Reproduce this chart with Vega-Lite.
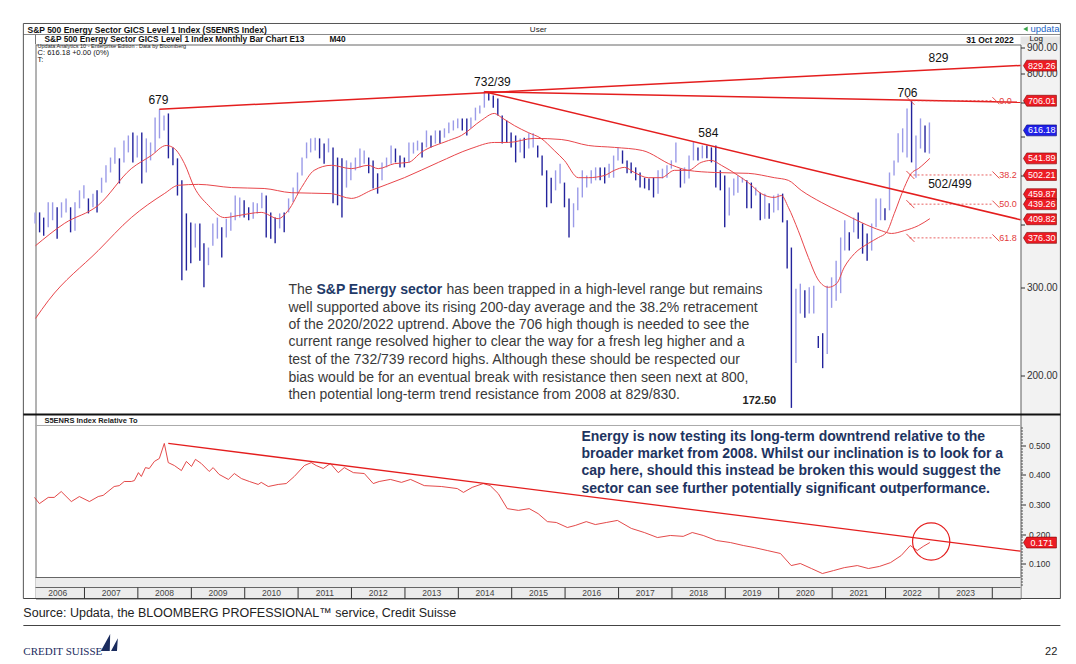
{
"$schema":"https://vega.github.io/schema/vega-lite/v6.json",
"width":985,"height":554,
"autosize":{"type":"pad"},
"padding":{"left":21.5,"top":22.5,"right":5,"bottom":5},
"background":"#ffffff",
"config":{"view":{"stroke":"#666","strokeWidth":1},"font":"Liberation Sans","text":{"font":"Liberation Sans"}},
"datasets":{
"bars":[
{"d":"2006-01-28","v":423,"l":402,"u":1},{"d":"2006-02-28","v":423,"l":386,"u":0},{"d":"2006-03-28","v":413,"l":380,"u":0},{"d":"2006-04-28","v":443,"l":395,"u":1},{"d":"2006-05-28","v":443,"l":408,"u":1},{"d":"2006-06-28","v":433,"l":375,"u":0},{"d":"2006-07-28","v":443,"l":413,"u":1},{"d":"2006-08-28","v":451,"l":423,"u":1},{"d":"2006-09-28","v":433,"l":386,"u":0},{"d":"2006-10-28","v":443,"l":389,"u":1},{"d":"2006-11-28","v":468,"l":431,"u":1},{"d":"2006-12-28","v":479,"l":451,"u":1},
{"d":"2007-01-28","v":451,"l":421,"u":0},{"d":"2007-02-28","v":461,"l":433,"u":1},{"d":"2007-03-28","v":468,"l":423,"u":0},{"d":"2007-04-28","v":496,"l":463,"u":1},{"d":"2007-05-28","v":525,"l":485,"u":1},{"d":"2007-06-28","v":544,"l":508,"u":1},{"d":"2007-07-28","v":570,"l":529,"u":1},{"d":"2007-08-28","v":542,"l":483,"u":0},{"d":"2007-09-28","v":588,"l":532,"u":1},{"d":"2007-10-28","v":602,"l":557,"u":1},{"d":"2007-11-28","v":610,"l":532,"u":0},{"d":"2007-12-28","v":602,"l":544,"u":1},
{"d":"2008-01-28","v":610,"l":483,"u":0},{"d":"2008-02-28","v":594,"l":508,"u":1},{"d":"2008-03-28","v":583,"l":537,"u":1},{"d":"2008-04-28","v":654,"l":557,"u":1},{"d":"2008-05-28","v":679,"l":594,"u":1},{"d":"2008-06-28","v":660,"l":616,"u":1},{"d":"2008-07-28","v":666,"l":542,"u":0},{"d":"2008-08-28","v":570,"l":525,"u":0},{"d":"2008-09-28","v":542,"l":457,"u":0},{"d":"2008-10-28","v":490,"l":310,"u":0},{"d":"2008-11-28","v":421,"l":324,"u":0},{"d":"2008-12-28","v":404,"l":335,"u":0},
{"d":"2009-01-28","v":402,"l":360,"u":1},{"d":"2009-02-28","v":402,"l":339,"u":0},{"d":"2009-03-28","v":367,"l":300,"u":0},{"d":"2009-04-28","v":360,"l":332,"u":1},{"d":"2009-05-28","v":402,"l":363,"u":1},{"d":"2009-06-28","v":413,"l":375,"u":1},{"d":"2009-07-28","v":395,"l":344,"u":0},{"d":"2009-08-28","v":411,"l":377,"u":1},{"d":"2009-09-28","v":423,"l":389,"u":1},{"d":"2009-10-28","v":457,"l":408,"u":1},{"d":"2009-11-28","v":453,"l":413,"u":1},{"d":"2009-12-28","v":447,"l":413,"u":0},
{"d":"2010-01-28","v":433,"l":408,"u":0},{"d":"2010-02-28","v":443,"l":411,"u":1},{"d":"2010-03-28","v":441,"l":421,"u":1},{"d":"2010-04-28","v":463,"l":431,"u":1},{"d":"2010-05-28","v":457,"l":377,"u":0},{"d":"2010-06-28","v":423,"l":375,"u":0},{"d":"2010-07-28","v":413,"l":367,"u":0},{"d":"2010-08-28","v":421,"l":393,"u":1},{"d":"2010-09-28","v":423,"l":386,"u":0},{"d":"2010-10-28","v":451,"l":423,"u":1},{"d":"2010-11-28","v":474,"l":443,"u":1},{"d":"2010-12-28","v":508,"l":461,"u":1},
{"d":"2011-01-28","v":544,"l":501,"u":1},{"d":"2011-02-28","v":583,"l":542,"u":1},{"d":"2011-03-28","v":594,"l":557,"u":1},{"d":"2011-04-28","v":596,"l":562,"u":1},{"d":"2011-05-28","v":594,"l":542,"u":0},{"d":"2011-06-28","v":580,"l":529,"u":0},{"d":"2011-07-28","v":594,"l":557,"u":1},{"d":"2011-08-28","v":570,"l":441,"u":0},{"d":"2011-09-28","v":544,"l":437,"u":0},{"d":"2011-10-28","v":542,"l":413,"u":0},{"d":"2011-11-28","v":537,"l":474,"u":1},{"d":"2011-12-28","v":532,"l":490,"u":1},
{"d":"2012-01-28","v":544,"l":513,"u":1},{"d":"2012-02-28","v":567,"l":520,"u":1},{"d":"2012-03-28","v":562,"l":529,"u":1},{"d":"2012-04-28","v":544,"l":506,"u":0},{"d":"2012-05-28","v":537,"l":472,"u":0},{"d":"2012-06-28","v":506,"l":461,"u":0},{"d":"2012-07-28","v":532,"l":490,"u":1},{"d":"2012-08-28","v":544,"l":520,"u":1},{"d":"2012-09-28","v":575,"l":529,"u":1},{"d":"2012-10-28","v":567,"l":532,"u":0},{"d":"2012-11-28","v":549,"l":520,"u":0},{"d":"2012-12-28","v":544,"l":520,"u":0},
{"d":"2013-01-28","v":583,"l":532,"u":1},{"d":"2013-02-28","v":583,"l":554,"u":1},{"d":"2013-03-28","v":588,"l":562,"u":1},{"d":"2013-04-28","v":583,"l":544,"u":0},{"d":"2013-05-28","v":616,"l":570,"u":1},{"d":"2013-06-28","v":602,"l":570,"u":0},{"d":"2013-07-28","v":616,"l":580,"u":1},{"d":"2013-08-28","v":616,"l":580,"u":0},{"d":"2013-09-28","v":622,"l":596,"u":1},{"d":"2013-10-28","v":639,"l":608,"u":1},{"d":"2013-11-28","v":645,"l":616,"u":1},{"d":"2013-12-28","v":651,"l":622,"u":1},
{"d":"2014-01-28","v":651,"l":616,"u":0},{"d":"2014-02-28","v":651,"l":602,"u":0},{"d":"2014-03-28","v":654,"l":622,"u":1},{"d":"2014-04-28","v":684,"l":645,"u":1},{"d":"2014-05-28","v":691,"l":666,"u":1},{"d":"2014-06-28","v":739,"l":684,"u":1},{"d":"2014-07-28","v":733,"l":707,"u":0},{"d":"2014-08-28","v":723,"l":684,"u":0},{"d":"2014-09-28","v":713,"l":660,"u":0},{"d":"2014-10-28","v":660,"l":580,"u":0},{"d":"2014-11-28","v":645,"l":583,"u":0},{"d":"2014-12-28","v":610,"l":570,"u":0},
{"d":"2015-01-28","v":602,"l":532,"u":0},{"d":"2015-02-28","v":594,"l":557,"u":1},{"d":"2015-03-28","v":596,"l":542,"u":0},{"d":"2015-04-28","v":608,"l":567,"u":1},{"d":"2015-05-28","v":608,"l":570,"u":1},{"d":"2015-06-28","v":575,"l":544,"u":0},{"d":"2015-07-28","v":549,"l":501,"u":0},{"d":"2015-08-28","v":513,"l":433,"u":0},{"d":"2015-09-28","v":496,"l":441,"u":0},{"d":"2015-10-28","v":513,"l":468,"u":1},{"d":"2015-11-28","v":529,"l":483,"u":1},{"d":"2015-12-28","v":485,"l":433,"u":0},
{"d":"2016-01-28","v":451,"l":377,"u":0},{"d":"2016-02-28","v":441,"l":395,"u":1},{"d":"2016-03-28","v":474,"l":427,"u":1},{"d":"2016-04-28","v":513,"l":453,"u":1},{"d":"2016-05-28","v":501,"l":474,"u":1},{"d":"2016-06-28","v":513,"l":483,"u":1},{"d":"2016-07-28","v":520,"l":490,"u":1},{"d":"2016-08-28","v":520,"l":490,"u":0},{"d":"2016-09-28","v":520,"l":483,"u":0},{"d":"2016-10-28","v":529,"l":496,"u":1},{"d":"2016-11-28","v":549,"l":496,"u":1},{"d":"2016-12-28","v":570,"l":537,"u":1},
{"d":"2017-01-28","v":562,"l":529,"u":0},{"d":"2017-02-28","v":537,"l":506,"u":0},{"d":"2017-03-28","v":532,"l":506,"u":0},{"d":"2017-04-28","v":520,"l":490,"u":0},{"d":"2017-05-28","v":508,"l":474,"u":0},{"d":"2017-06-28","v":496,"l":472,"u":0},{"d":"2017-07-28","v":494,"l":468,"u":0},{"d":"2017-08-28","v":496,"l":453,"u":0},{"d":"2017-09-28","v":513,"l":461,"u":1},{"d":"2017-10-28","v":517,"l":494,"u":1},{"d":"2017-11-28","v":525,"l":496,"u":1},{"d":"2017-12-28","v":537,"l":517,"u":1},
{"d":"2018-01-28","v":583,"l":532,"u":1},{"d":"2018-02-28","v":517,"l":474,"u":0},{"d":"2018-03-28","v":520,"l":483,"u":1},{"d":"2018-04-28","v":549,"l":494,"u":1},{"d":"2018-05-28","v":584,"l":537,"u":1},{"d":"2018-06-28","v":570,"l":537,"u":0},{"d":"2018-07-28","v":575,"l":542,"u":1},{"d":"2018-08-28","v":575,"l":542,"u":0},{"d":"2018-09-28","v":570,"l":532,"u":0},{"d":"2018-10-28","v":575,"l":474,"u":0},{"d":"2018-11-28","v":513,"l":468,"u":0},{"d":"2018-12-28","v":501,"l":395,"u":0},
{"d":"2019-01-28","v":474,"l":417,"u":1},{"d":"2019-02-28","v":494,"l":457,"u":1},{"d":"2019-03-28","v":501,"l":463,"u":1},{"d":"2019-04-28","v":496,"l":485,"u":1},{"d":"2019-05-28","v":490,"l":431,"u":0},{"d":"2019-06-28","v":485,"l":431,"u":0},{"d":"2019-07-28","v":474,"l":457,"u":1},{"d":"2019-08-28","v":463,"l":408,"u":0},{"d":"2019-09-28","v":461,"l":411,"u":1},{"d":"2019-10-28","v":441,"l":411,"u":0},{"d":"2019-11-28","v":457,"l":423,"u":1},{"d":"2019-12-28","v":461,"l":427,"u":1},
{"d":"2020-01-28","v":461,"l":404,"u":0},{"d":"2020-02-28","v":408,"l":327,"u":0},{"d":"2020-03-28","v":360,"l":172.5,"u":0},{"d":"2020-04-28","v":298,"l":212,"u":1},{"d":"2020-05-28","v":305,"l":266,"u":1},{"d":"2020-06-28","v":296,"l":261,"u":0},{"d":"2020-07-28","v":300,"l":266,"u":1},{"d":"2020-08-28","v":302,"l":266,"u":1},{"d":"2020-09-28","v":240,"l":227,"u":0},{"d":"2020-10-28","v":243,"l":207,"u":0},{"d":"2020-11-28","v":302,"l":221,"u":1},{"d":"2020-12-28","v":314,"l":273,"u":1},
{"d":"2021-01-28","v":339,"l":282,"u":1},{"d":"2021-02-28","v":377,"l":292,"u":1},{"d":"2021-03-28","v":408,"l":355,"u":1},{"d":"2021-04-28","v":386,"l":355,"u":0},{"d":"2021-05-28","v":413,"l":386,"u":1},{"d":"2021-06-28","v":423,"l":375,"u":0},{"d":"2021-07-28","v":402,"l":350,"u":0},{"d":"2021-08-28","v":384,"l":339,"u":0},{"d":"2021-09-28","v":402,"l":355,"u":1},{"d":"2021-10-28","v":451,"l":395,"u":1},{"d":"2021-11-28","v":451,"l":408,"u":1},{"d":"2021-12-28","v":431,"l":408,"u":0},
{"d":"2022-01-28","v":508,"l":427,"u":1},{"d":"2022-02-28","v":537,"l":501,"u":1},{"d":"2022-03-28","v":608,"l":532,"u":1},{"d":"2022-04-28","v":622,"l":557,"u":1},{"d":"2022-05-28","v":681,"l":544,"u":1},{"d":"2022-06-28","v":706,"l":532,"u":0},{"d":"2022-07-28","v":602,"l":496,"u":1},{"d":"2022-08-28","v":651,"l":567,"u":1},{"d":"2022-09-28","v":630,"l":557,"u":0},{"d":"2022-10-28","v":639,"l":554,"u":1}
],
"ma1":[
{"d":"2006-01-31","v":363},{"d":"2006-08-16","v":402},{"d":"2007-04-05","v":437},{"d":"2007-11-17","v":517},{"d":"2008-04-02","v":549},{"d":"2008-07-13","v":575},{"d":"2008-09-07","v":567},{"d":"2008-11-15","v":529},{"d":"2009-01-22","v":474},{"d":"2009-04-27","v":437},{"d":"2009-08-15","v":413},{"d":"2009-11-19","v":417},{"d":"2010-04-24","v":423},{"d":"2010-08-18","v":411},{"d":"2010-10-26","v":427},{"d":"2011-01-24","v":474},{"d":"2011-04-21","v":513},{"d":"2011-08-16","v":525},{"d":"2011-12-31","v":517},{"d":"2012-04-25","v":525},{"d":"2012-07-02","v":517},{"d":"2012-10-21","v":529},{"d":"2013-01-25","v":532},{"d":"2013-04-22","v":557},{"d":"2013-10-25","v":588},{"d":"2014-01-22","v":602},{"d":"2014-06-07","v":645},{"d":"2014-09-04","v":666},{"d":"2014-10-22","v":654},{"d":"2015-01-19","v":630},{"d":"2015-04-24","v":610},{"d":"2015-07-21","v":594},{"d":"2015-10-19","v":562},{"d":"2015-12-27","v":537},{"d":"2016-04-01","v":496},{"d":"2016-06-08","v":496},{"d":"2016-09-26","v":501},{"d":"2016-12-03","v":513},{"d":"2017-02-11","v":520},{"d":"2017-04-19","v":508},{"d":"2017-07-23","v":496},{"d":"2017-10-20","v":496},{"d":"2018-01-18","v":513},{"d":"2018-04-22","v":513},{"d":"2018-07-20","v":532},{"d":"2018-09-27","v":537},{"d":"2018-12-05","v":525},{"d":"2019-03-30","v":501},{"d":"2019-06-07","v":485},{"d":"2019-09-04","v":461},{"d":"2019-12-02","v":453},{"d":"2020-01-20","v":457},{"d":"2020-03-07","v":433},{"d":"2020-05-14","v":389},{"d":"2020-07-22","v":344},{"d":"2020-09-29","v":310},{"d":"2020-12-06","v":300},{"d":"2021-01-31","v":305},{"d":"2021-03-25","v":329},{"d":"2021-06-02","v":350},{"d":"2021-09-06","v":367},{"d":"2021-11-14","v":377},{"d":"2022-01-08","v":386},{"d":"2022-03-02","v":421},{"d":"2022-05-09","v":474},{"d":"2022-06-26","v":506},{"d":"2022-08-13","v":517},{"d":"2022-10-31","v":542}
],
"ma2":[
{"d":"2006-01-31","v":260},{"d":"2006-04-28","v":282},{"d":"2007-04-05","v":355},{"d":"2007-11-17","v":413},{"d":"2008-06-30","v":461},{"d":"2008-10-04","v":479},{"d":"2009-02-19","v":481},{"d":"2009-10-02","v":474},{"d":"2010-05-14","v":472},{"d":"2010-11-15","v":463},{"d":"2011-08-16","v":461},{"d":"2011-12-31","v":451},{"d":"2012-05-15","v":468},{"d":"2012-12-28","v":496},{"d":"2013-08-17","v":532},{"d":"2014-03-29","v":567},{"d":"2014-09-04","v":583},{"d":"2014-12-09","v":583},{"d":"2015-06-04","v":594},{"d":"2015-12-06","v":591},{"d":"2016-06-08","v":575},{"d":"2016-12-03","v":570},{"d":"2017-06-12","v":562},{"d":"2018-01-04","v":525},{"d":"2018-04-22","v":513},{"d":"2018-10-17","v":508},{"d":"2019-06-07","v":506},{"d":"2019-12-02","v":496},{"d":"2020-03-07","v":490},{"d":"2020-06-03","v":468},{"d":"2020-10-18","v":443},{"d":"2021-03-03","v":423},{"d":"2021-07-18","v":404},{"d":"2021-12-03","v":389},{"d":"2022-02-10","v":384},{"d":"2022-05-09","v":389},{"d":"2022-08-13","v":398},{"d":"2022-10-31","v":411}
],
"tl":[
{"k":"A","d":"2008-05-27","v":679},{"k":"A","d":"2024-07-12","v":830},
{"k":"B","d":"2014-06-28","v":736},{"k":"B","d":"2024-07-12","v":701},
{"k":"C","d":"2014-06-28","v":736},{"k":"C","d":"2024-07-12","v":409}
],
"fib":[{"v":706.01,"lab":"0.0"},{"v":502.21,"lab":"38.2"},{"v":439.26,"lab":"50.0"},{"v":376.30,"lab":"61.8"}],
"lbl":[
{"d":"2008-05-21","v":710,"t":"679"},{"d":"2014-08-22","v":769,"t":"732/39"},{"d":"2018-09-07","v":610,"t":"584"},{"d":"2022-05-31","v":733,"t":"706"},{"d":"2022-12-29","v":857,"t":"829"},{"d":"2023-03-17","v":482,"t":"502/499"}
],
"para":[
{"v":273.4,"t":"well supported above its rising 200-day average and the 38.2% retracement"},
{"v":252.4,"t":"of the 2020/2022 uptrend. Above the 706 high though is needed to see the"},
{"v":232.9,"t":"current range resolved higher to clear the way for a fresh leg higher and a"},
{"v":214.9,"t":"test of the 732/739 record highs. Although these should be respected our"},
{"v":198.3,"t":"bias would be for an eventual break with resistance then seen next at 800,"},
{"v":183.0,"t":"then potential long-term trend resistance from 2008 at 829/830."}
],
"tags":[{"v":829.26,"k":"r"},{"v":706.01,"k":"r"},{"v":616.18,"k":"b"},{"v":541.89,"k":"r"},{"v":502.21,"k":"r"},{"v":459.87,"k":"r"},{"v":439.26,"k":"r"},{"v":409.82,"k":"r"},{"v":376.30,"k":"r"}],
"rel":[
{"d":"2006-01-24","r":0.324},{"d":"2006-02-27","r":0.303},{"d":"2006-04-28","r":0.324},{"d":"2006-06-08","r":0.324},{"d":"2006-07-26","r":0.344},{"d":"2006-10-03","r":0.31},{"d":"2006-11-27","r":0.327},{"d":"2007-02-04","r":0.31},{"d":"2007-04-05","r":0.327},{"d":"2007-05-09","r":0.331},{"d":"2007-07-23","r":0.361},{"d":"2007-08-27","r":0.364},{"d":"2007-09-30","r":0.378},{"d":"2007-11-17","r":0.378},{"d":"2007-12-08","r":0.381},{"d":"2008-01-05","r":0.408},{"d":"2008-01-25","r":0.395},{"d":"2008-02-22","r":0.425},{"d":"2008-03-19","r":0.422},{"d":"2008-04-23","r":0.446},{"d":"2008-05-27","r":0.456},{"d":"2008-06-30","r":0.507},{"d":"2008-07-27","r":0.442},{"d":"2008-09-07","r":0.432},{"d":"2008-10-25","r":0.415},{"d":"2008-11-28","r":0.446},{"d":"2009-01-02","r":0.429},{"d":"2009-01-29","r":0.453},{"d":"2009-03-10","r":0.439},{"d":"2009-05-03","r":0.412},{"d":"2009-05-30","r":0.425},{"d":"2009-07-10","r":0.402},{"d":"2009-09-11","r":0.385},{"d":"2009-10-22","r":0.405},{"d":"2009-12-09","r":0.388},{"d":"2010-02-02","r":0.378},{"d":"2010-04-03","r":0.368},{"d":"2010-04-24","r":0.375},{"d":"2010-06-11","r":0.361},{"d":"2010-08-18","r":0.368},{"d":"2010-10-12","r":0.371},{"d":"2010-12-06","r":0.395},{"d":"2011-02-13","r":0.432},{"d":"2011-04-01","r":0.442},{"d":"2011-05-05","r":0.432},{"d":"2011-06-22","r":0.422},{"d":"2011-08-10","r":0.439},{"d":"2011-10-03","r":0.408},{"d":"2011-11-13","r":0.425},{"d":"2012-01-14","r":0.408},{"d":"2012-03-29","r":0.405},{"d":"2012-05-29","r":0.371},{"d":"2012-07-09","r":0.378},{"d":"2012-09-23","r":0.385},{"d":"2012-12-08","r":0.375},{"d":"2013-02-08","r":0.385},{"d":"2013-05-13","r":0.364},{"d":"2013-09-07","r":0.361},{"d":"2013-12-25","r":0.354},{"d":"2014-02-05","r":0.341},{"d":"2014-04-06","r":0.358},{"d":"2014-06-20","r":0.371},{"d":"2014-08-07","r":0.364},{"d":"2014-10-01","r":0.337},{"d":"2014-12-02","r":0.286},{"d":"2015-02-16","r":0.28},{"d":"2015-05-01","r":0.286},{"d":"2015-07-01","r":0.269},{"d":"2015-09-02","r":0.242},{"d":"2015-11-02","r":0.239},{"d":"2016-01-17","r":0.222},{"d":"2016-03-11","r":0.229},{"d":"2016-05-25","r":0.242},{"d":"2016-07-26","r":0.232},{"d":"2016-10-09","r":0.239},{"d":"2016-12-24","r":0.246},{"d":"2017-03-29","r":0.219},{"d":"2017-06-26","r":0.205},{"d":"2017-09-24","r":0.188},{"d":"2017-12-21","r":0.195},{"d":"2018-03-19","r":0.192},{"d":"2018-05-20","r":0.205},{"d":"2018-08-03","r":0.195},{"d":"2018-11-01","r":0.178},{"d":"2019-02-05","r":0.171},{"d":"2019-05-04","r":0.161},{"d":"2019-07-18","r":0.154},{"d":"2019-10-15","r":0.144},{"d":"2020-01-13","r":0.134},{"d":"2020-03-27","r":0.093},{"d":"2020-05-28","r":0.1},{"d":"2020-08-12","r":0.083},{"d":"2020-10-26","r":0.066},{"d":"2021-01-10","r":0.076},{"d":"2021-03-25","r":0.086},{"d":"2021-06-22","r":0.093},{"d":"2021-09-06","r":0.083},{"d":"2021-11-20","r":0.09},{"d":"2022-02-04","r":0.103},{"d":"2022-04-18","r":0.127},{"d":"2022-06-19","r":0.161},{"d":"2022-08-06","r":0.144},{"d":"2022-09-16","r":0.158},{"d":"2022-10-31","r":0.171}
],
"rtl":[{"d":"2008-07-27","r":0.507},{"d":"2024-07-12","r":0.142}],
"lpara":[
{"r":0.5305,"t":"Energy is now testing its long-term downtrend relative to the"},
{"r":0.4712,"t":"broader market from 2008. Whilst our inclination is to look for a"},
{"r":0.4119,"t":"cap here, should this instead be broken this would suggest the"},
{"r":0.3525,"t":"sector can see further potentially significant outperformance."}
],
"years":[{"d":"2006-01-01","t":"2006"},{"d":"2007-01-01","t":"2007"},{"d":"2008-01-01","t":"2008"},{"d":"2009-01-01","t":"2009"},{"d":"2010-01-01","t":"2010"},{"d":"2011-01-01","t":"2011"},{"d":"2012-01-01","t":"2012"},{"d":"2013-01-01","t":"2013"},{"d":"2014-01-01","t":"2014"},{"d":"2015-01-01","t":"2015"},{"d":"2016-01-01","t":"2016"},{"d":"2017-01-01","t":"2017"},{"d":"2018-01-01","t":"2018"},{"d":"2019-01-01","t":"2019"},{"d":"2020-01-01","t":"2020"},{"d":"2021-01-01","t":"2021"},{"d":"2022-01-01","t":"2022"},{"d":"2023-01-01","t":"2023"},{"d":"2024-01-01","t":"2024"}]
},
"layer":[
{"layer":[
  {"data":{"values":[{}]},"mark":{"type":"rect","color":"#000000","opacity":0.05},"encoding":{"x":{"datum":{"year":2024,"month":7,"date":12},"type":"temporal","axis":null},"x2":{"datum":{"year":2025,"month":4,"date":11}},"y":{"datum":947.9,"type":"quantitative","scale":{"type":"log","domain":[71.95,913.8],"nice":false},"axis":null},"y2":{"datum":71.95}}},
  {"data":{"name":"bars"},"mark":{"type":"rule","strokeWidth":1.4},
   "encoding":{"x":{"field":"d","type":"temporal","scale":{"domain":[{"year":2006,"month":1,"date":31},{"year":2024,"month":7,"date":12}]},"axis":null},
   "y":{"field":"v","type":"quantitative","scale":{"type":"log","domain":[71.95,913.8],"nice":false},"axis":null},
   "y2":{"field":"l"},
   "color":{"field":"u","type":"nominal","scale":{"domain":[0,1],"range":["#23239c","#9b9be8"]},"legend":null}}},
  {"data":{"name":"ma1"},"mark":{"type":"line","color":"#e8464b","strokeWidth":1,"interpolate":"monotone"},"encoding":{"x":{"field":"d","type":"temporal","axis":null},"y":{"field":"v","type":"quantitative","scale":{"type":"log","domain":[71.95,913.8],"nice":false},"axis":null}}},
  {"data":{"name":"ma2"},"mark":{"type":"line","color":"#e8464b","strokeWidth":1,"interpolate":"monotone"},"encoding":{"x":{"field":"d","type":"temporal","axis":null},"y":{"field":"v","type":"quantitative","scale":{"type":"log","domain":[71.95,913.8],"nice":false},"axis":null}}},
  {"data":{"name":"tl"},"mark":{"type":"line","color":"#e41e1e","strokeWidth":1.5},"encoding":{"x":{"field":"d","type":"temporal","axis":null},"y":{"field":"v","type":"quantitative","scale":{"type":"log","domain":[71.95,913.8],"nice":false},"axis":null},"detail":{"field":"k"}}},
  {"data":{"name":"fib"},"mark":{"type":"rule","color":"#e23a3a","strokeWidth":0.8,"strokeDash":[2,2]},"encoding":{"x":{"datum":{"year":2022,"month":6,"date":14},"type":"temporal","axis":null},"x2":{"datum":{"year":2024,"month":1,"date":9}},"y":{"field":"v","type":"quantitative","scale":{"type":"log","domain":[71.95,913.8],"nice":false},"axis":null}}},
  {"data":{"name":"fib"},"mark":{"type":"point","shape":"M-1,-1L1,1","size":64,"filled":false,"color":"#e23a3a","strokeWidth":0.9,"opacity":1},"encoding":{"x":{"datum":{"year":2022,"month":6,"date":20},"type":"temporal","axis":null},"y":{"field":"v","type":"quantitative","scale":{"type":"log","domain":[71.95,913.8],"nice":false},"axis":null}}},
  {"data":{"name":"fib"},"mark":{"type":"point","shape":"M-1,-1L1,1","size":49,"filled":false,"color":"#e23a3a","strokeWidth":0.9,"opacity":1},"encoding":{"x":{"datum":{"year":2024,"month":1,"date":26},"type":"temporal","axis":null},"y":{"field":"v","type":"quantitative","scale":{"type":"log","domain":[71.95,913.8],"nice":false},"axis":null}}},
  {"data":{"name":"fib"},"mark":{"type":"text","align":"left","baseline":"middle","fontSize":9,"color":"#e23a3a"},"encoding":{"x":{"datum":{"year":2024,"month":2,"date":18},"type":"temporal","axis":null},"y":{"field":"v","type":"quantitative","scale":{"type":"log","domain":[71.95,913.8],"nice":false},"axis":null},"text":{"field":"lab"}}},
  {"data":{"name":"lbl"},"mark":{"type":"text","fontSize":12,"color":"#111","baseline":"middle"},"encoding":{"x":{"field":"d","type":"temporal","axis":null},"y":{"field":"v","type":"quantitative","scale":{"type":"log","domain":[71.95,913.8],"nice":false},"axis":null},"text":{"field":"t"}}},
  {"data":{"values":[{"d":"2019-08-22","v":177.7,"t":"172.50"}]},"mark":{"type":"text","fontSize":11,"fontWeight":"bold","color":"#222","baseline":"middle"},"encoding":{"x":{"field":"d","type":"temporal","axis":null},"y":{"field":"v","type":"quantitative","scale":{"type":"log","domain":[71.95,913.8],"nice":false},"axis":null},"text":{"field":"t"}}},
  {"data":{"name":"para"},"mark":{"type":"text","align":"left","baseline":"middle","fontSize":14,"color":"#3a3a3a"},"encoding":{"x":{"datum":{"year":2010,"month":10,"date":27},"type":"temporal","axis":null},"y":{"field":"v","type":"quantitative","scale":{"type":"log","domain":[71.95,913.8],"nice":false},"axis":null},"text":{"field":"t"}}},
  {"data":{"values":[{}]},"mark":{"type":"text","align":"left","baseline":"middle","fontSize":14,"color":"#3a3a3a"},"encoding":{"x":{"datum":{"year":2010,"month":10,"date":27},"type":"temporal","axis":null},"y":{"datum":296.3,"type":"quantitative","scale":{"type":"log","domain":[71.95,913.8],"nice":false},"axis":null},"text":{"value":"The"}}},
  {"data":{"values":[{}]},"mark":{"type":"text","align":"left","baseline":"middle","fontSize":14,"fontWeight":"bold","color":"#1f3a68","dx":28},"encoding":{"x":{"datum":{"year":2010,"month":10,"date":27},"type":"temporal","axis":null},"y":{"datum":296.3,"type":"quantitative","scale":{"type":"log","domain":[71.95,913.8],"nice":false},"axis":null},"text":{"value":"S&P Energy sector"}}},
  {"data":{"values":[{}]},"mark":{"type":"text","align":"left","baseline":"middle","fontSize":14,"color":"#3a3a3a","dx":158},"encoding":{"x":{"datum":{"year":2010,"month":10,"date":27},"type":"temporal","axis":null},"y":{"datum":296.3,"type":"quantitative","scale":{"type":"log","domain":[71.95,913.8],"nice":false},"axis":null},"text":{"value":"has been trapped in a high-level range but remains"}}},
  {"data":{"name":"tags"},"transform":[{"filter":"datum.k == 'r'"}],"mark":{"type":"point","shape":"M-1,0L-0.8,-0.33L1,-0.33L1,0.33L-0.8,0.33Z","size":1089,"filled":true,"opacity":1,"fill":"#ec1c24","stroke":"#7a0000","strokeWidth":0.6},"encoding":{"x":{"datum":{"year":2024,"month":11,"date":22},"type":"temporal","axis":null},"y":{"field":"v","type":"quantitative","scale":{"type":"log","domain":[71.95,913.8],"nice":false},"axis":null}}},
  {"data":{"name":"tags"},"transform":[{"filter":"datum.k == 'b'"}],"mark":{"type":"point","shape":"M-1,0L-0.8,-0.33L1,-0.33L1,0.33L-0.8,0.33Z","size":1089,"filled":true,"opacity":1,"fill":"#2020e8","stroke":"#000070","strokeWidth":0.6},"encoding":{"x":{"datum":{"year":2024,"month":11,"date":22},"type":"temporal","axis":null},"y":{"field":"v","type":"quantitative","scale":{"type":"log","domain":[71.95,913.8],"nice":false},"axis":null}}},
  {"data":{"name":"tags"},"mark":{"type":"text","fontSize":9,"color":"#ffffff","baseline":"middle","align":"center"},"encoding":{"x":{"datum":{"year":2024,"month":12,"date":5},"type":"temporal","axis":null},"y":{"field":"v","type":"quantitative","scale":{"type":"log","domain":[71.95,913.8],"nice":false},"axis":null},"text":{"field":"v","format":".2f"}}}
 ]},
{"layer":[
  {"data":{"values":[{}]},"mark":{"type":"rect","color":"#ececec"},"encoding":{"x":{"datum":{"year":2006,"month":1,"date":31},"type":"temporal","axis":null},"x2":{"datum":{"year":2024,"month":7,"date":12}},"y":{"datum":0.05254,"type":"quantitative","scale":{"domain":[-0.01864,1.8593],"zero":false,"nice":false},"axis":null},"y2":{"datum":-0.01864}}},
  {"data":{"values":[{}]},"mark":{"type":"rect","color":"#000000","opacity":0.05},"encoding":{"x":{"datum":{"year":2024,"month":7,"date":12},"type":"temporal","axis":null},"x2":{"datum":{"year":2025,"month":4,"date":11}},"y":{"datum":1.8864,"type":"quantitative","scale":{"domain":[-0.01864,1.8593],"zero":false,"nice":false},"axis":null},"y2":{"datum":1.8593}}},
  {"data":{"name":"rel"},"mark":{"type":"line","color":"#e03434","strokeWidth":0.9},"encoding":{"x":{"field":"d","type":"temporal","axis":null},"y":{"field":"r","type":"quantitative","scale":{"domain":[-0.01864,1.8593],"zero":false,"nice":false},"axis":null}}},
  {"data":{"name":"rtl"},"mark":{"type":"line","color":"#e41e1e","strokeWidth":1.3},"encoding":{"x":{"field":"d","type":"temporal","axis":null},"y":{"field":"r","type":"quantitative","scale":{"domain":[-0.01864,1.8593],"zero":false,"nice":false},"axis":null}}},
  {"data":{"values":[{}]},"mark":{"type":"point","shape":"circle","size":1385,"filled":false,"color":"#e41e1e","strokeWidth":1.2,"opacity":1},"encoding":{"x":{"datum":{"year":2022,"month":11,"date":9},"type":"temporal","axis":null},"y":{"datum":0.1746,"type":"quantitative","scale":{"domain":[-0.01864,1.8593],"zero":false,"nice":false},"axis":null}}},
  {"data":{"values":[{}]},"mark":{"type":"point","shape":"M-1,0L-0.8,-0.33L1,-0.33L1,0.33L-0.8,0.33Z","size":1089,"filled":true,"opacity":1,"fill":"#ec1c24","stroke":"#7a0000","strokeWidth":0.6},"encoding":{"x":{"datum":{"year":2024,"month":11,"date":22},"type":"temporal","axis":null},"y":{"datum":0.171,"type":"quantitative","scale":{"domain":[-0.01864,1.8593],"zero":false,"nice":false},"axis":null}}},
  {"data":{"values":[{}]},"mark":{"type":"text","fontSize":9,"color":"#ffffff","baseline":"middle","align":"center"},"encoding":{"x":{"datum":{"year":2024,"month":12,"date":5},"type":"temporal","axis":null},"y":{"datum":0.171,"type":"quantitative","scale":{"domain":[-0.01864,1.8593],"zero":false,"nice":false},"axis":null},"text":{"value":"0.171"}}},
  {"data":{"name":"lpara"},"mark":{"type":"text","align":"left","baseline":"middle","fontSize":14,"fontWeight":"bold","color":"#1e3461"},"encoding":{"x":{"datum":{"year":2016,"month":4,"date":22},"type":"temporal","axis":null},"y":{"field":"r","type":"quantitative","scale":{"domain":[-0.01864,1.8593],"zero":false,"nice":false},"axis":null},"text":{"field":"t"}}},
  {"data":{"values":[{}]},"mark":{"type":"text","align":"left","baseline":"middle","fontSize":7.5,"fontWeight":"bold","color":"#222"},"encoding":{"x":{"datum":{"year":2006,"month":4,"date":2},"type":"temporal","axis":null},"y":{"datum":0.5831,"type":"quantitative","scale":{"domain":[-0.01864,1.8593],"zero":false,"nice":false},"axis":null},"text":{"value":"S5ENRS Index Relative To"}}},
  {"data":{"values":[{}]},"mark":{"type":"rule","color":"#555","strokeWidth":1},"encoding":{"x":{"datum":{"year":2005,"month":11,"date":9},"type":"temporal","axis":null},"x2":{"datum":{"year":2025,"month":4,"date":11}},"y":{"datum":1.9305,"type":"quantitative","scale":{"domain":[-0.01864,1.8593],"zero":false,"nice":false},"axis":null}}},
  {"data":{"values":[{}]},"mark":{"type":"rule","color":"#888","strokeWidth":1},"encoding":{"x":{"datum":{"year":2005,"month":11,"date":9},"type":"temporal","axis":null},"x2":{"datum":{"year":2025,"month":4,"date":11}},"y":{"datum":1.8932,"type":"quantitative","scale":{"domain":[-0.01864,1.8593],"zero":false,"nice":false},"axis":null}}},
  {"data":{"values":[{}]},"mark":{"type":"rule","color":"#555","strokeWidth":1},"encoding":{"x":{"datum":{"year":2005,"month":11,"date":9},"type":"temporal","axis":null},"y":{"datum":1.9305,"type":"quantitative","scale":{"domain":[-0.01864,1.8593],"zero":false,"nice":false},"axis":null},"y2":{"datum":-0.01864}}},
  {"data":{"values":[{}]},"mark":{"type":"rule","color":"#555","strokeWidth":1},"encoding":{"x":{"datum":{"year":2025,"month":4,"date":11},"type":"temporal","axis":null},"y":{"datum":1.9305,"type":"quantitative","scale":{"domain":[-0.01864,1.8593],"zero":false,"nice":false},"axis":null},"y2":{"datum":-0.01864}}},
  {"data":{"values":[{}]},"mark":{"type":"rule","color":"#777","strokeWidth":1},"encoding":{"x":{"datum":{"year":2006,"month":1,"date":31},"type":"temporal","axis":null},"y":{"datum":1.8932,"type":"quantitative","scale":{"domain":[-0.01864,1.8593],"zero":false,"nice":false},"axis":null},"y2":{"datum":1.8593}}},
  {"data":{"values":[{}]},"mark":{"type":"rule","color":"#111","strokeWidth":2},"encoding":{"x":{"datum":{"year":2005,"month":11,"date":9},"type":"temporal","axis":null},"x2":{"datum":{"year":2025,"month":4,"date":11}},"y":{"datum":0.6051,"type":"quantitative","scale":{"domain":[-0.01864,1.8593],"zero":false,"nice":false},"axis":null}}},
  {"data":{"values":[{}]},"mark":{"type":"rule","color":"#aaa","strokeWidth":1},"encoding":{"x":{"datum":{"year":2006,"month":1,"date":31},"type":"temporal","axis":null},"x2":{"datum":{"year":2024,"month":7,"date":12}},"y":{"datum":0.5678,"type":"quantitative","scale":{"domain":[-0.01864,1.8593],"zero":false,"nice":false},"axis":null}}},
  {"data":{"values":[{}]},"mark":{"type":"rule","color":"#666","strokeWidth":1},"encoding":{"x":{"datum":{"year":2006,"month":1,"date":31},"type":"temporal","axis":null},"x2":{"datum":{"year":2024,"month":7,"date":12}},"y":{"datum":0.05254,"type":"quantitative","scale":{"domain":[-0.01864,1.8593],"zero":false,"nice":false},"axis":null}}},
  {"data":{"values":[{}]},"mark":{"type":"rule","color":"#666","strokeWidth":1},"encoding":{"x":{"datum":{"year":2006,"month":1,"date":31},"type":"temporal","axis":null},"x2":{"datum":{"year":2024,"month":7,"date":12}},"y":{"datum":0.01864,"type":"quantitative","scale":{"domain":[-0.01864,1.8593],"zero":false,"nice":false},"axis":null}}},
  {"data":{"values":[{}]},"mark":{"type":"rule","color":"#444","strokeWidth":1},"encoding":{"x":{"datum":{"year":2005,"month":11,"date":9},"type":"temporal","axis":null},"x2":{"datum":{"year":2025,"month":4,"date":11}},"y":{"datum":-0.01864,"type":"quantitative","scale":{"domain":[-0.01864,1.8593],"zero":false,"nice":false},"axis":null}}},
  {"data":{"values":[{}]},"mark":{"type":"rule","color":"#444","strokeWidth":1},"encoding":{"x":{"datum":{"year":2005,"month":11,"date":9},"type":"temporal","axis":null},"x2":{"datum":{"year":2025,"month":4,"date":11}},"y":{"datum":-0.1102,"type":"quantitative","scale":{"domain":[-0.01864,1.8593],"zero":false,"nice":false},"axis":null}}},
  {"data":{"name":"years"},"transform":[{"filter":"datum.t != '2006'"}],"mark":{"type":"rule","color":"#333","strokeWidth":1},"encoding":{"x":{"field":"d","type":"temporal","axis":null},"y":{"datum":0.01864,"type":"quantitative","scale":{"domain":[-0.01864,1.8593],"zero":false,"nice":false},"axis":null},"y2":{"datum":-0.01864}}},
  {"data":{"name":"years"},"transform":[{"filter":"datum.t != '2024'"}],"mark":{"type":"text","dx":26.7,"fontSize":8.5,"color":"#444","baseline":"middle"},"encoding":{"x":{"field":"d","type":"temporal","axis":null},"y":{"datum":-0.00169,"type":"quantitative","scale":{"domain":[-0.01864,1.8593],"zero":false,"nice":false},"axis":null},"text":{"field":"t"}}},
  {"data":{"values":[{}]},"mark":{"type":"text","align":"left","baseline":"middle","fontSize":8.5,"fontWeight":"bold","color":"#111"},"encoding":{"x":{"datum":{"year":2005,"month":12,"date":7},"type":"temporal","axis":null},"y":{"datum":1.9085,"type":"quantitative","scale":{"domain":[-0.01864,1.8593],"zero":false,"nice":false},"axis":null},"text":{"value":"S&P 500 Energy Sector GICS Level 1 Index (S5ENRS Index)"}}},
  {"data":{"values":[{}]},"mark":{"type":"text","align":"center","baseline":"middle","fontSize":8,"color":"#222"},"encoding":{"x":{"datum":{"year":2015,"month":7,"date":2},"type":"temporal","axis":null},"y":{"datum":1.9085,"type":"quantitative","scale":{"domain":[-0.01864,1.8593],"zero":false,"nice":false},"axis":null},"text":{"value":"User"}}},
  {"data":{"values":[{}]},"mark":{"type":"text","align":"left","baseline":"middle","fontSize":9.5,"color":"#1b64c4"},"encoding":{"x":{"datum":{"year":2024,"month":9,"date":18},"type":"temporal","axis":null},"y":{"datum":1.9119,"type":"quantitative","scale":{"domain":[-0.01864,1.8593],"zero":false,"nice":false},"axis":null},"text":{"value":"updata"}}},
  {"data":{"values":[{}]},"mark":{"type":"point","shape":"triangle-left","size":26,"filled":true,"color":"#3aa34a","opacity":1},"encoding":{"x":{"datum":{"year":2024,"month":8,"date":15},"type":"temporal","axis":null},"y":{"datum":1.9119,"type":"quantitative","scale":{"domain":[-0.01864,1.8593],"zero":false,"nice":false},"axis":null}}},
  {"data":{"values":[{}]},"mark":{"type":"text","align":"left","baseline":"middle","fontSize":8.3,"fontWeight":"bold","color":"#111"},"encoding":{"x":{"datum":{"year":2006,"month":4,"date":2},"type":"temporal","axis":null},"y":{"datum":1.8746,"type":"quantitative","scale":{"domain":[-0.01864,1.8593],"zero":false,"nice":false},"axis":null},"text":{"value":"S&P 500 Energy Sector GICS Level 1 Index Monthly Bar Chart E13"}}},
  {"data":{"values":[{}]},"mark":{"type":"text","align":"left","baseline":"middle","fontSize":8.3,"fontWeight":"bold","color":"#111"},"encoding":{"x":{"datum":{"year":2011,"month":8,"date":3},"type":"temporal","axis":null},"y":{"datum":1.8746,"type":"quantitative","scale":{"domain":[-0.01864,1.8593],"zero":false,"nice":false},"axis":null},"text":{"value":"M40"}}},
  {"data":{"values":[{}]},"mark":{"type":"text","align":"right","baseline":"middle","fontSize":8.5,"fontWeight":"bold","color":"#111"},"encoding":{"x":{"datum":{"year":2024,"month":5,"date":26},"type":"temporal","axis":null},"y":{"datum":1.8746,"type":"quantitative","scale":{"domain":[-0.01864,1.8593],"zero":false,"nice":false},"axis":null},"text":{"value":"31 Oct 2022"}}},
  {"data":{"values":[{}]},"mark":{"type":"text","align":"left","baseline":"middle","fontSize":8,"color":"#111"},"encoding":{"x":{"datum":{"year":2024,"month":9,"date":12},"type":"temporal","axis":null},"y":{"datum":1.878,"type":"quantitative","scale":{"domain":[-0.01864,1.8593],"zero":false,"nice":false},"axis":null},"text":{"value":"Log"}}},
  {"data":{"values":[{}]},"mark":{"type":"text","align":"left","baseline":"middle","fontSize":5.5,"color":"#222"},"encoding":{"x":{"datum":{"year":2006,"month":2,"date":14},"type":"temporal","axis":null},"y":{"datum":1.8542,"type":"quantitative","scale":{"domain":[-0.01864,1.8593],"zero":false,"nice":false},"axis":null},"text":{"value":"Updata Analytics 10 - Enterprise Edition : Data by Bloomberg"}}},
  {"data":{"values":[{}]},"mark":{"type":"text","align":"left","baseline":"middle","fontSize":7.5,"color":"#111"},"encoding":{"x":{"datum":{"year":2006,"month":2,"date":14},"type":"temporal","axis":null},"y":{"datum":1.8305,"type":"quantitative","scale":{"domain":[-0.01864,1.8593],"zero":false,"nice":false},"axis":null},"text":{"value":"C: 616.18 +0.00 (0%)"}}},
  {"data":{"values":[{}]},"mark":{"type":"text","align":"left","baseline":"middle","fontSize":7.5,"color":"#111"},"encoding":{"x":{"datum":{"year":2006,"month":2,"date":14},"type":"temporal","axis":null},"y":{"datum":1.8051,"type":"quantitative","scale":{"domain":[-0.01864,1.8593],"zero":false,"nice":false},"axis":null},"text":{"value":"T:"}}},
  {"data":{"values":[{}]},"mark":{"type":"text","align":"left","baseline":"middle","fontSize":12.5,"color":"#222"},"encoding":{"x":{"datum":{"year":2005,"month":11,"date":9},"type":"temporal","axis":null},"y":{"datum":-0.0661,"type":"quantitative","scale":{"domain":[-0.01864,1.8593],"zero":false,"nice":false},"axis":null},"text":{"value":"Source: Updata, the BLOOMBERG PROFESSIONAL™ service, Credit Suisse"}}},
  {"data":{"values":[{}]},"mark":{"type":"text","align":"left","baseline":"middle","fontSize":11,"font":"Liberation Serif","color":"#1b2c5e"},"encoding":{"x":{"datum":{"year":2005,"month":11,"date":9},"type":"temporal","axis":null},"y":{"datum":-0.1983,"type":"quantitative","scale":{"domain":[-0.01864,1.8593],"zero":false,"nice":false},"axis":null},"text":{"value":"CREDIT SUISSE"}}},
  {"data":{"values":[{}]},"mark":{"type":"point","shape":"M-1,1L0.1,-1L0.05,1Z M0.2,1L1,-0.5L0.9,1Z","size":289,"filled":true,"color":"#1b2c5e","opacity":1},"encoding":{"x":{"datum":{"year":2007,"month":6,"date":20},"type":"temporal","axis":null},"y":{"datum":-0.1678,"type":"quantitative","scale":{"domain":[-0.01864,1.8593],"zero":false,"nice":false},"axis":null}}},
  {"data":{"values":[{}]},"mark":{"type":"text","align":"right","baseline":"middle","fontSize":11,"color":"#222"},"encoding":{"x":{"datum":{"year":2025,"month":3,"date":21},"type":"temporal","axis":null},"y":{"datum":-0.1983,"type":"quantitative","scale":{"domain":[-0.01864,1.8593],"zero":false,"nice":false},"axis":null},"text":{"value":"22"}}}
 ]},
{"data":{"values":[{"v":500}]},"mark":{"type":"point","opacity":0},
 "encoding":{"y":{"field":"v","type":"quantitative","scale":{"type":"log","domain":[71.95,913.8],"nice":false},"axis":{"orient":"right","values":[200,300,400,500,600,700,800,900],"labelExpr":"indexof([200,300,800,900], datum.value) >= 0 ? format(datum.value, '.2f') : ''","title":null,"grid":false,"domain":false,"tickSize":4,"tickColor":"#333","labelFontSize":10,"labelColor":"#333","labelPadding":2,"labelBound":false,"labelFlush":false,"labelOverlap":false}}}},
{"data":{"values":[{"r":0.3}]},"mark":{"type":"point","opacity":0},
 "encoding":{"y":{"field":"r","type":"quantitative","scale":{"domain":[-0.01864,1.8593],"zero":false,"nice":false},"axis":{"orient":"right","values":[0.03,0.04,0.05,0.06,0.07,0.08,0.09,0.11,0.12,0.13,0.14,0.15,0.16,0.17,0.18,0.19,0.21,0.22,0.23,0.24,0.25,0.26,0.27,0.28,0.29,0.31,0.32,0.33,0.34,0.35,0.36,0.37,0.38,0.39,0.41,0.42,0.43,0.44,0.45,0.46,0.47,0.48,0.49,0.51,0.52,0.53,0.54,0.55,0.56],"labels":false,"title":null,"grid":false,"domain":false,"tickSize":2,"tickColor":"#555"}}}},
{"data":{"values":[{"r":0.3}]},"mark":{"type":"point","opacity":0},
 "encoding":{"y":{"field":"r","type":"quantitative","scale":{"domain":[-0.01864,1.8593],"zero":false,"nice":false},"axis":{"orient":"right","values":[0.1,0.2,0.3,0.4,0.5],"format":".3f","title":null,"grid":false,"domain":false,"tickSize":5,"tickColor":"#333","labelFontSize":8.5,"labelColor":"#333","labelPadding":3,"labelBound":false,"labelFlush":false,"labelOverlap":false}}}}
],
"resolve":{"scale":{"y":"independent"},"axis":{"y":"independent"}}
}
